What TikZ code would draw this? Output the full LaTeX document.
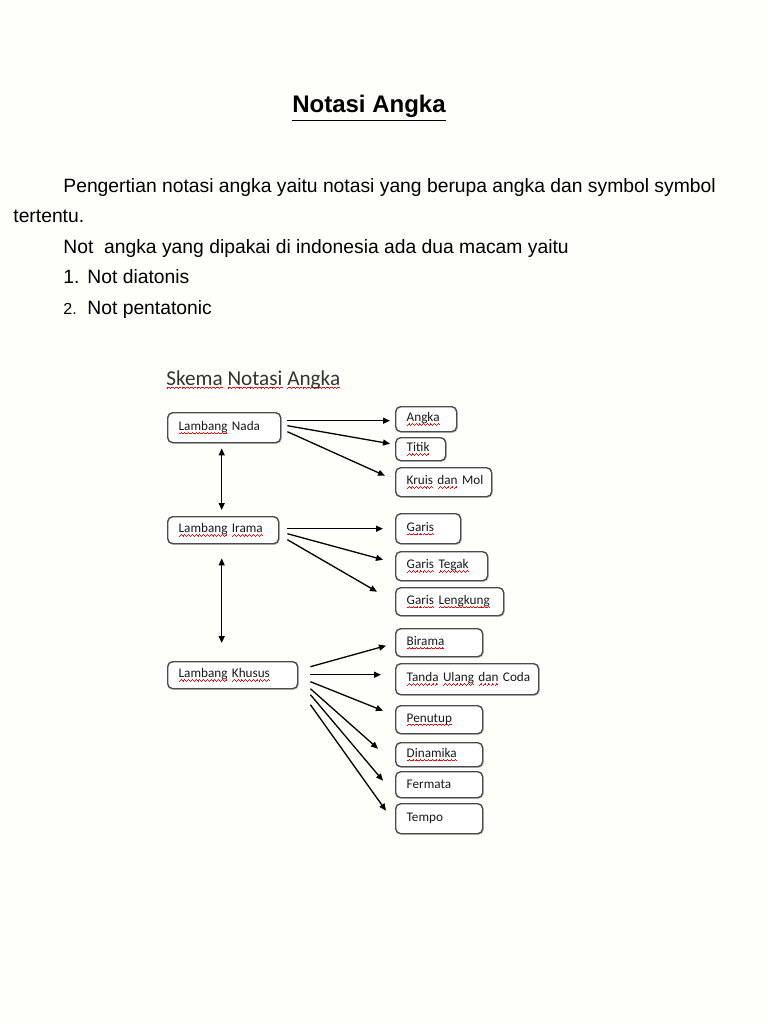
\documentclass[tikz,border=0pt]{standalone}
\usepackage{fontspec}
\setmainfont{Liberation Sans}
\newfontfamily\calibri{Carlito}
\usetikzlibrary{arrows.meta, calc, shadows}
\definecolor{paper}{HTML}{FEFEFA}
% red spelling squiggle, built from tiny rules
\newcommand{\wavebit}{\hbox{\vrule width0.45pt height0.4pt depth0pt\raise0.35pt\hbox{\vrule width0.45pt height0.4pt depth0pt}\raise0.7pt\hbox{\vrule width0.45pt height0.4pt depth0pt}\raise0.35pt\hbox{\vrule width0.45pt height0.4pt depth0pt}}}
\newsavebox{\spellbox}
\newcommand{\spell}[1]{\sbox{\spellbox}{#1}\rlap{\lower1.9pt\hbox to\wd\spellbox{\color{red}\xleaders\wavebit\hfil}}\usebox{\spellbox}}

\begin{document}
\begin{tikzpicture}[x=0.5pt, y=-0.5pt,
    body/.style={anchor=base west, inner sep=0pt, font=\fontsize{9.65}{11}\selectfont},
    box/.style={draw=black!70, fill=white, rounded corners=2.5pt, line width=0.7pt,
      anchor=north west, inner xsep=5.5pt, inner ysep=0pt, align=left, text=black!90,
      font=\calibri\fontsize{6.6}{8}\selectfont,
      drop shadow={shadow xshift=0.6pt, shadow yshift=-0.6pt, opacity=0.35}},
    arr/.style={-{Triangle[length=3.5pt,width=3pt]}, line width=0.65pt},
    dbl/.style={{Triangle[length=3.5pt,width=3pt]}-{Triangle[length=3.5pt,width=3pt]}, line width=0.65pt}]
    % page
    \fill[paper] (0,0) rectangle (768,1024);
    \useasboundingbox (0,0) rectangle (768,1024);
    % heading
    \node[inner sep=0pt, font=\bfseries\fontsize{12}{14}\selectfont] (title) at (369,108) {\underline{Notasi Angka}};
    % paragraph
    \node[body] (p1) at (63,192) {Pengertian notasi angka yaitu notasi yang berupa angka dan symbol symbol};
    \node[body] (p2) at (13,222) {tertentu.};
    \node[body] (p3) at (63,253) {Not~ angka yang dipakai di indonesia ada dua macam yaitu};
    \node[body] (n1) at (63,283) {1.};
    \node[body] (l1) at (87,283) {Not diatonis};
    \node[body, font=\fontsize{8}{10}\selectfont] (n2) at (63,314) {2.};
    \node[body] (l2) at (87,314) {Not pentatonic};
    % scheme title
    \node[anchor=base west, inner sep=0pt, text=black!80, font=\calibri\fontsize{10.6}{12}\selectfont] (skema) at (166,385) {\spell{Skema} \spell{Notasi} \spell{Angka}};
    % left column
    \node[box, text width=45.5pt, minimum height=15pt] (nada) at (167,412) {\mbox{\spell{Lambang} Nada}};
    \node[box, text width=44.5pt, minimum height=13.5pt] (irama) at (167,516) {\mbox{\spell{Lambang} \spell{Irama}}};
    \node[box, text width=54pt, minimum height=13.5pt] (khusus) at (167,661) {\mbox{\spell{Lambang} \spell{Khusus}}};
    % right column
    \node[box, text width=19.5pt, minimum height=12.5pt] (angka) at (395,406) {\spell{Angka}};
    \node[box, text width=14pt, minimum height=11.5pt] (titik) at (395,437) {\spell{Titik}};
    \node[box, text width=37pt, minimum height=14.5pt] (kruis) at (395,467) {\mbox{\spell{Kruis} \spell{dan} Mol}};
    \node[box, text width=21.5pt, minimum height=15pt] (garis) at (395,513) {\spell{Garis}};
    \node[box, text width=35pt, minimum height=14.5pt] (tegak) at (395,551) {\mbox{\spell{Garis} \spell{Tegak}}};
    \node[box, text width=43pt, minimum height=14pt] (lengkung) at (395,587) {\mbox{\spell{Garis} \spell{Lengkung}}};
    \node[box, text width=32.5pt, minimum height=14pt] (birama) at (395,628) {\spell{Birama}};
    \node[box, text width=60.5pt, minimum height=15.5pt] (tanda) at (395,663) {\mbox{\spell{Tanda} \spell{Ulang} \spell{dan} Coda}};
    \node[box, text width=32.5pt, minimum height=14pt] (penutup) at (395,705) {\spell{Penutup}};
    \node[box, text width=32.5pt, minimum height=12pt] (dinamika) at (395,742) {\spell{Dinamika}};
    \node[box, text width=32.5pt, minimum height=13pt] (fermata) at (395,771) {Fermata};
    \node[box, text width=32.5pt, minimum height=15pt] (tempo) at (395,803) {Tempo};
    % vertical links
    \draw[dbl] ($(nada.south)+(-2.5,5)$) -- ($(irama.north)+(-1.5,-6)$);
    \draw[dbl] ($(irama.south)+(-1.5,14)$) -- ($(khusus.north)+(-11,-18)$);
    % lambang nada
    \draw[arr] ($(nada.east)+(6,-7)$) -- ($(angka.west)+(-5,1.5)$);
    \draw[arr] ($(nada.east)+(6,-2)$) -- ($(titik.west)+(-5,-5.5)$);
    \draw[arr] ($(nada.east)+(6,4)$) -- ($(kruis.west)+(-10,-6.5)$);
    % lambang irama
    \draw[arr] ($(irama.east)+(8,-1.5)$) -- ($(garis.west)+(-12,0)$);
    \draw[arr] ($(irama.east)+(8,3.5)$) -- ($(tegak.west)+(-12,-6.5)$);
    \draw[arr] ($(irama.east)+(8,9.5)$) -- ($(lengkung.west)+(-18,-10)$);
    % lambang khusus
    \draw[arr] ($(khusus.east)+(12,-8.5)$) -- ($(birama.west)+(-9,3)$);
    \draw[arr] ($(khusus.east)+(12,-0.5)$) -- ($(tanda.west)+(-14,-4.5)$);
    \draw[arr] ($(khusus.east)+(12,6.5)$) -- ($(penutup.west)+(-12,-9)$);
    \draw[arr] ($(khusus.east)+(12,13.5)$) -- ($(dinamika.west)+(-17,-6)$);
    \draw[arr] ($(khusus.east)+(12,19.5)$) -- ($(fermata.west)+(-12,-4)$);
    \draw[arr] ($(khusus.east)+(12,29.5)$) -- ($(tempo.west)+(-9,-8)$);
\end{tikzpicture}
\end{document}
